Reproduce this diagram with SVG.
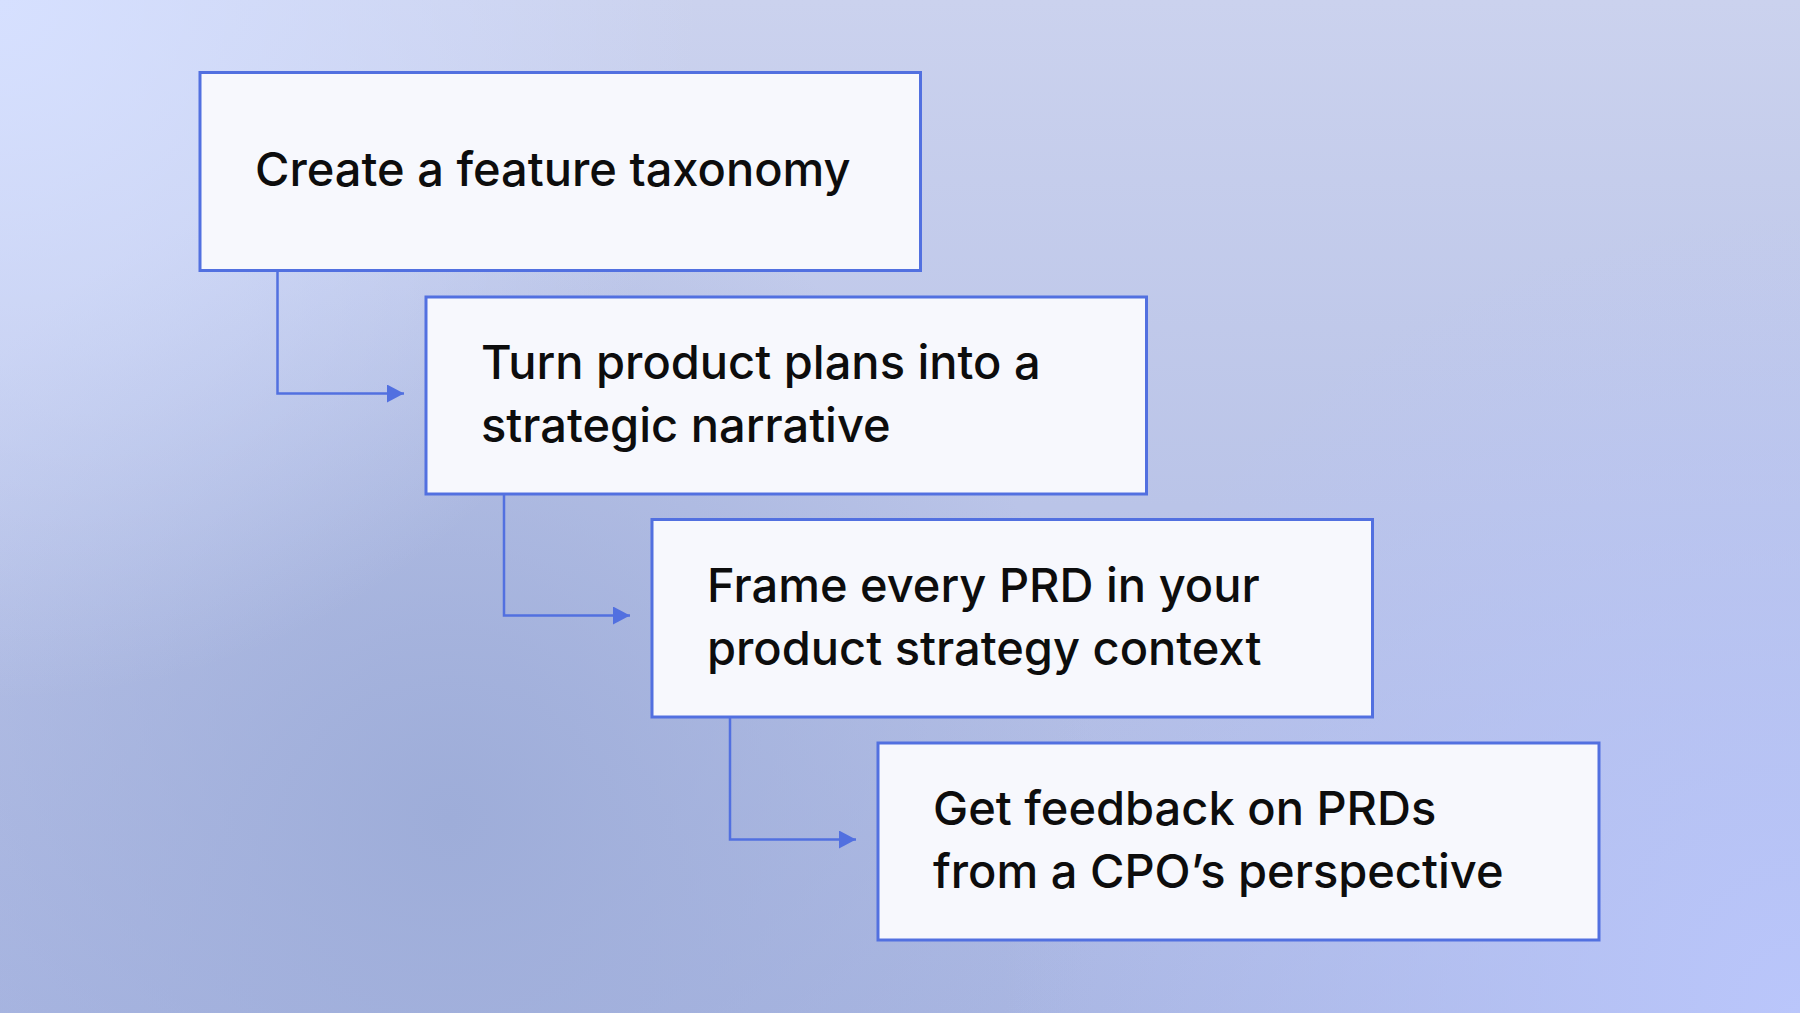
<svg xmlns="http://www.w3.org/2000/svg" width="1800" height="1013" viewBox="0 0 1800 1013">
  <defs>
    <linearGradient id="bgv" x1="0" y1="0" x2="0" y2="1">
      <stop offset="0" stop-color="#cbd2ee"/>
      <stop offset="1" stop-color="#a9b6e2"/>
    </linearGradient>
    <radialGradient id="tl" cx="0" cy="0" r="700" gradientUnits="userSpaceOnUse">
      <stop offset="0" stop-color="#d6e0ff" stop-opacity="1"/>
      <stop offset="1" stop-color="#d6e0ff" stop-opacity="0"/>
    </radialGradient>
    <radialGradient id="br" cx="1800" cy="1013" r="800" gradientUnits="userSpaceOnUse">
      <stop offset="0" stop-color="#bac6fb" stop-opacity="1"/>
      <stop offset="1" stop-color="#bac6fb" stop-opacity="0"/>
    </radialGradient>
    <radialGradient id="dk" cx="450" cy="820" r="650" gradientUnits="userSpaceOnUse">
      <stop offset="0" stop-color="#9eadd9" stop-opacity="1"/>
      <stop offset="1" stop-color="#9eadd9" stop-opacity="0"/>
    </radialGradient>
    <marker id="arr" markerWidth="18" markerHeight="18" refX="17" refY="9" orient="auto" markerUnits="userSpaceOnUse">
      <path d="M0,0 L17,9 L0,18 Z" fill="#5270e0"/>
    </marker>
    <style>
      .box { fill: #f7f8fd; stroke: #5270e0; stroke-width: 3; }
      .lbl { font-family: Inter, "Liberation Sans", sans-serif; font-size: 47px; font-weight: 500; fill: #0d0d0d; }
      .conn { fill: none; stroke: #5270e0; stroke-width: 2.5; }
    </style>
  </defs>
  <rect width="1800" height="1013" fill="url(#bgv)"/>
  <rect width="1800" height="1013" fill="url(#dk)"/>
  <rect width="1800" height="1013" fill="url(#tl)"/>
  <rect width="1800" height="1013" fill="url(#br)"/>

  <g id="connectors">
    <path class="conn" d="M277.5,271 V393.5 H404" marker-end="url(#arr)"/>
    <path class="conn" d="M504,494 V615.5 H630" marker-end="url(#arr)"/>
    <path class="conn" d="M730,717 V839.5 H856" marker-end="url(#arr)"/>
  </g>

  <g id="node1">
    <rect class="box" x="200" y="72.5" width="720.5" height="198"/>
    <text class="lbl" x="255" y="186">Create a feature taxonomy</text>
  </g>
  <g id="node2">
    <rect class="box" x="426" y="297" width="720.5" height="197"/>
    <text class="lbl" x="481" y="379">Turn product plans into a</text>
    <text class="lbl" x="481" y="442">strategic narrative</text>
  </g>
  <g id="node3">
    <rect class="box" x="652" y="519.5" width="720.5" height="197.5"/>
    <text class="lbl" x="707" y="602">Frame every PRD in your</text>
    <text class="lbl" x="707" y="665">product strategy context</text>
  </g>
  <g id="node4">
    <rect class="box" x="878" y="743" width="721" height="197"/>
    <text class="lbl" x="933" y="825">Get feedback on PRDs</text>
    <text class="lbl" x="933" y="888">from a CPO’s perspective</text>
  </g>
</svg>
